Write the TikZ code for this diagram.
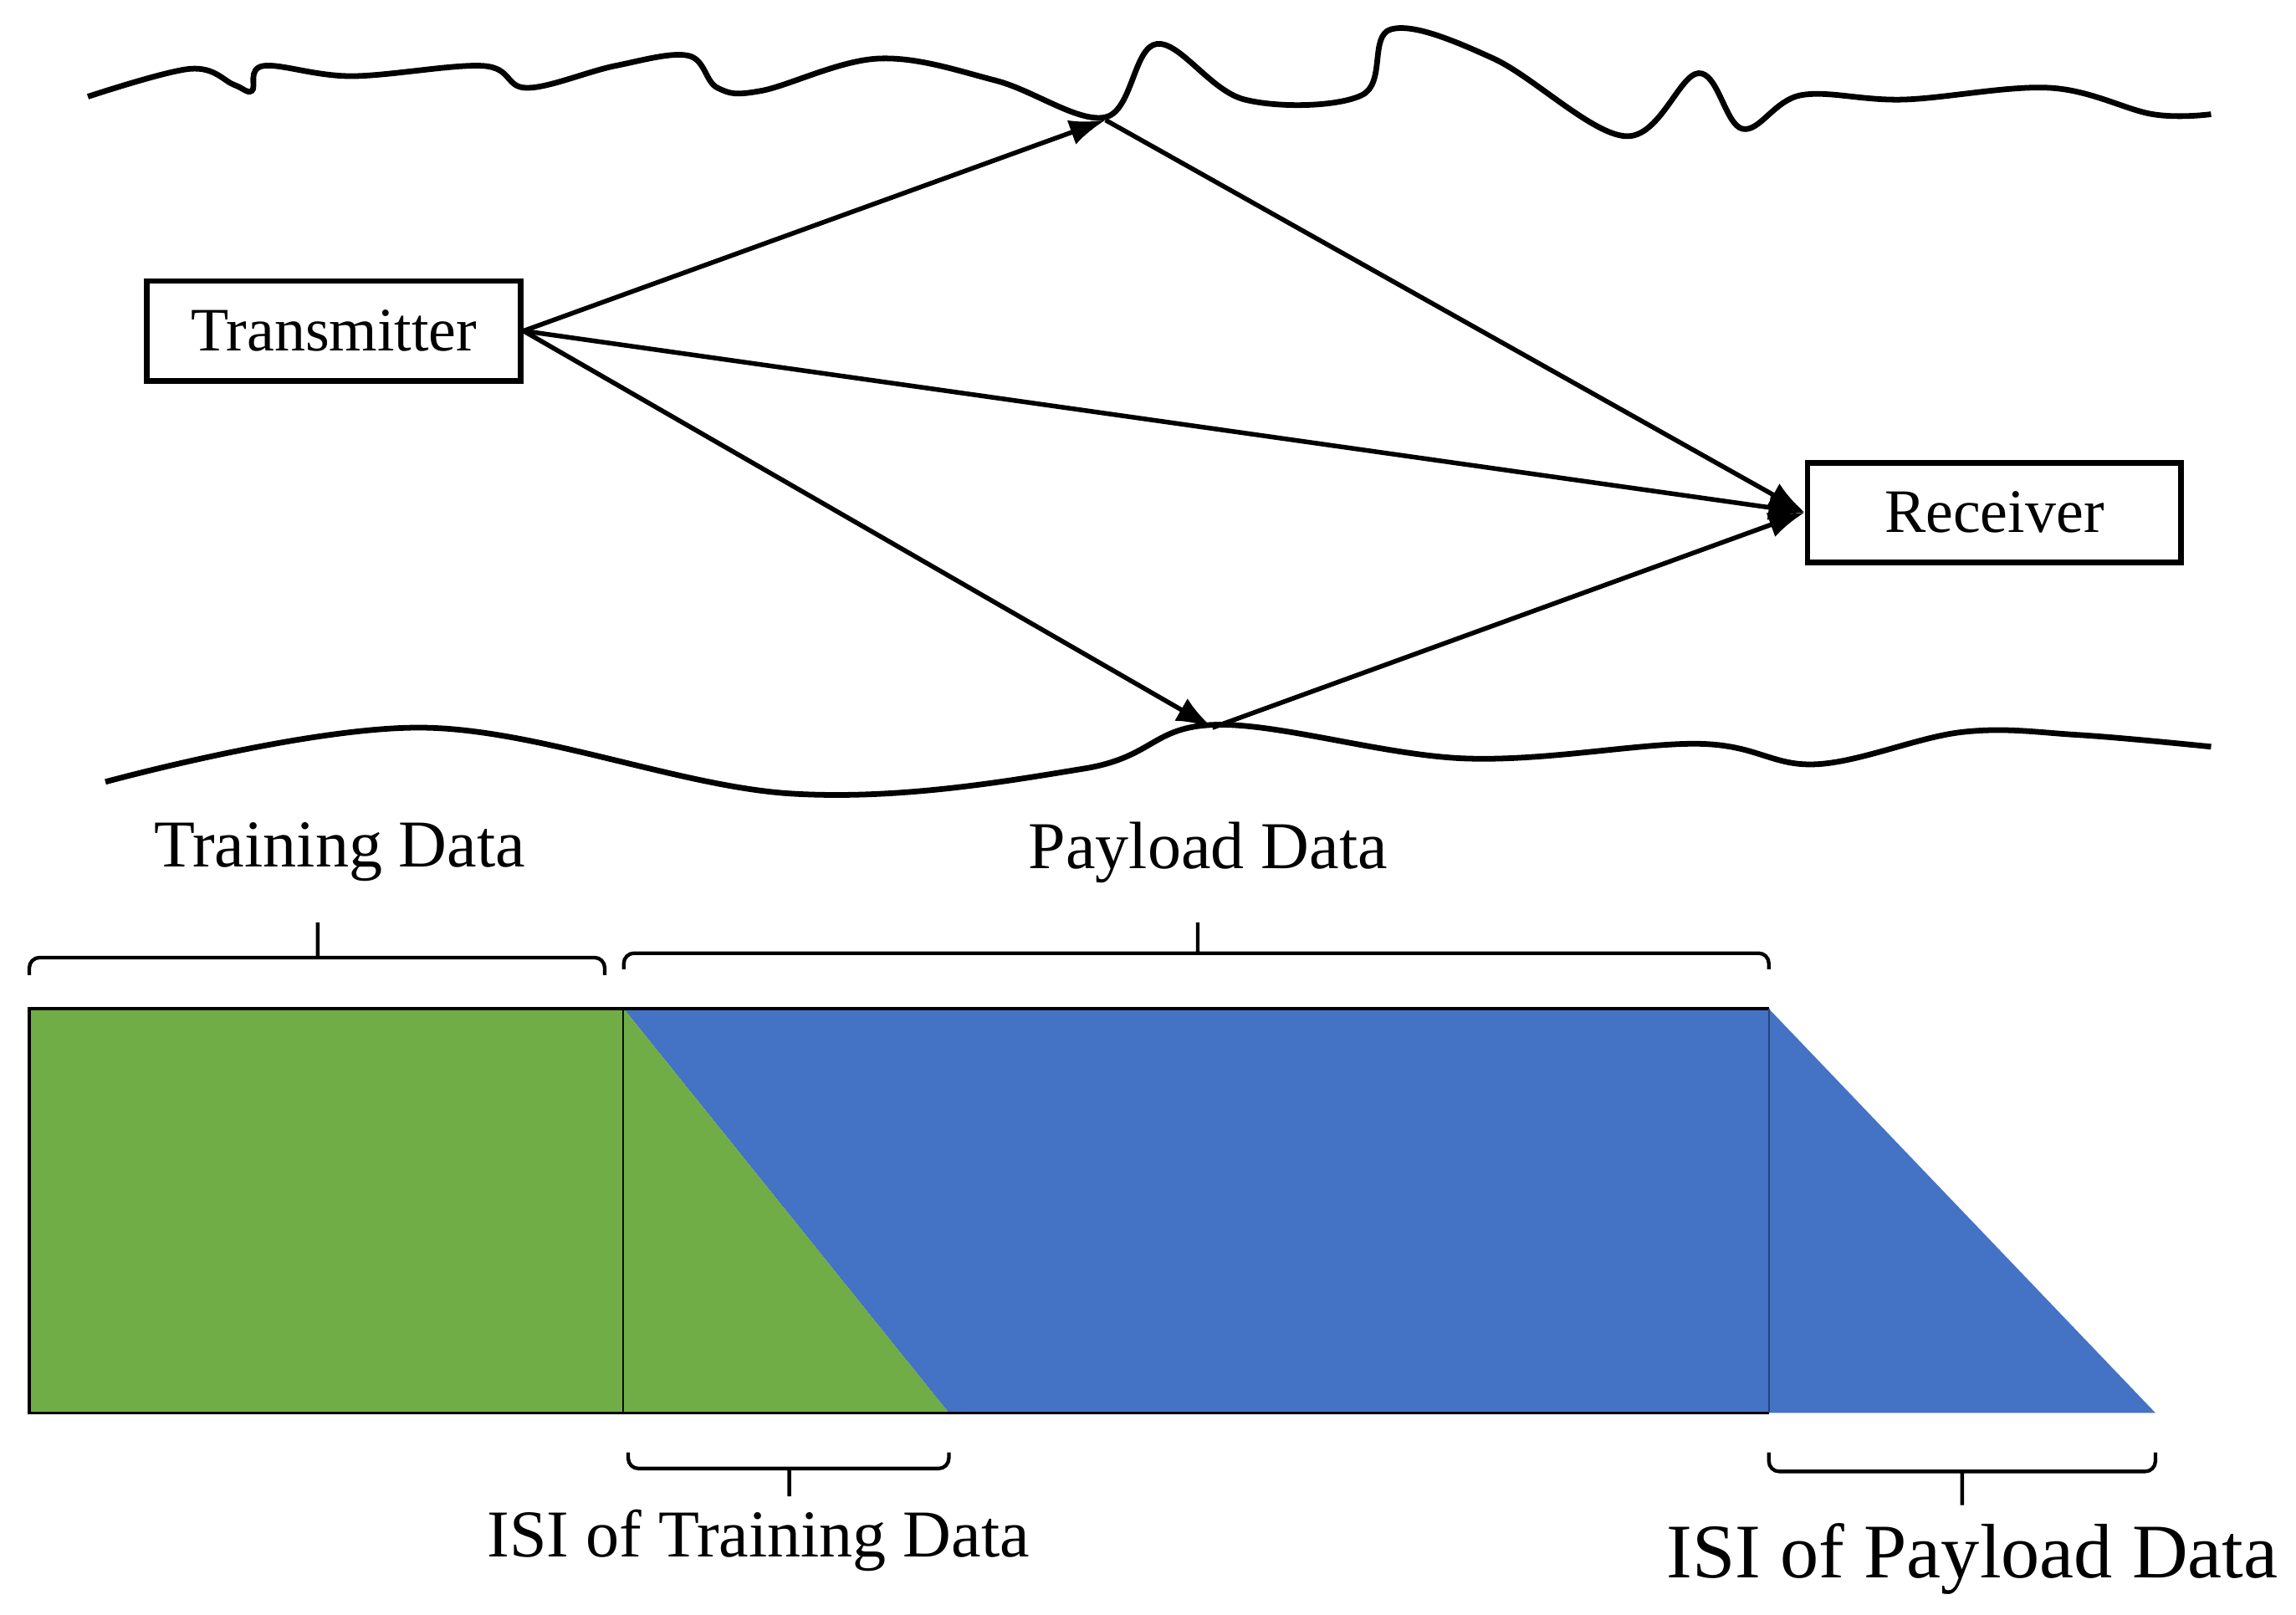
\documentclass[tikz,border=0pt]{standalone}
\usepackage{fontspec}
\setmainfont{Liberation Serif}
\usetikzlibrary{arrows.meta}
\definecolor{tgreen}{HTML}{70AD47}
\definecolor{tblue}{HTML}{4472C4}
\begin{document}
\begin{tikzpicture}[x=0.01cm,y=-0.01cm,
  box/.style={draw,line width=1.1pt,minimum width=2.55cm,minimum height=0.68cm,font=\fontsize{12}{14}\selectfont},
  ray/.style={line width=0.9pt,-{Latex[length=7pt,width=5pt]}},
  wave/.style={line width=1.1pt},
  brc/.style={line width=0.7pt,rounded corners=2pt},
  lbl/.style={font=\fontsize{13}{15}\selectfont}]
\useasboundingbox (0,0) rectangle (1568,1103);
\draw[wave] plot[smooth,tension=0.6] coordinates {(60,66) (130,47) (160,58) (172,62) (180,45) (240,52) (330,45) (360,60) (420,45) (470,38) (490,60) (520,62) (600,40) (680,55) (755,80) (790,30) (850,68) (930,65) (950,20) (1020,40) (1110,93) (1160,50) (1190,88) (1230,65) (1300,68) (1400,60) (1470,78) (1510,78)};
\draw[wave] plot[smooth,tension=0.6] coordinates {(72,534) (290,497) (540,542) (740,525) (830,495) (1000,518) (1160,508) (1240,522) (1340,500) (1420,502) (1510,510)};
\node[box] (tx) at (228,226) {Transmitter};
\node[box] (rx) at (1362,350) {Receiver};
\coordinate (top) at (755,82);
\coordinate (bot) at (828,497);
\draw[ray] (tx.east) -- (top);
\draw[ray] (top) -- (rx.west);
\draw[ray] (tx.east) -- (rx.west);
\draw[ray] (tx.east) -- (bot);
\draw[ray] (bot) -- (rx.west);
\fill[tgreen] (20,689) rectangle (426,965);
\draw[line width=0.6pt] (20,689) rectangle (426,965);
\fill[tblue] (426,689) -- (1208,689) -- (1472,965) -- (648,965) -- cycle;
\fill[tgreen] (426,689) -- (648,965) -- (426,965) -- cycle;
\draw[line width=0.6pt] (426,689) -- (1208,689) (426,965) -- (1208,965);
\draw[line width=0.4pt,tblue!60!black] (1208,689) -- (1208,965);
\draw[brc] (20,666) -- (20,654) -- (413,654) -- (413,666) (217,654) -- (217,630);
\draw[brc] (426,662) -- (426,651) -- (1208,651) -- (1208,662) (818,651) -- (818,630);
\draw[brc] (429,992) -- (429,1003) -- (648,1003) -- (648,992) (539,1003) -- (539,1022);
\draw[brc] (1208,992) -- (1208,1005) -- (1472,1005) -- (1472,992) (1340,1005) -- (1340,1028);
\node[lbl] (t1) at (232,582) {Training Data};
\node[lbl] (t2) at (825,582) {Payload Data};
\node[lbl] (t3) at (518,1052) {ISI of Training Data};
\node[font=\fontsize{15}{17}\selectfont] (t4) at (1347,1065) {ISI of Payload Data};
\end{tikzpicture}
\end{document}
